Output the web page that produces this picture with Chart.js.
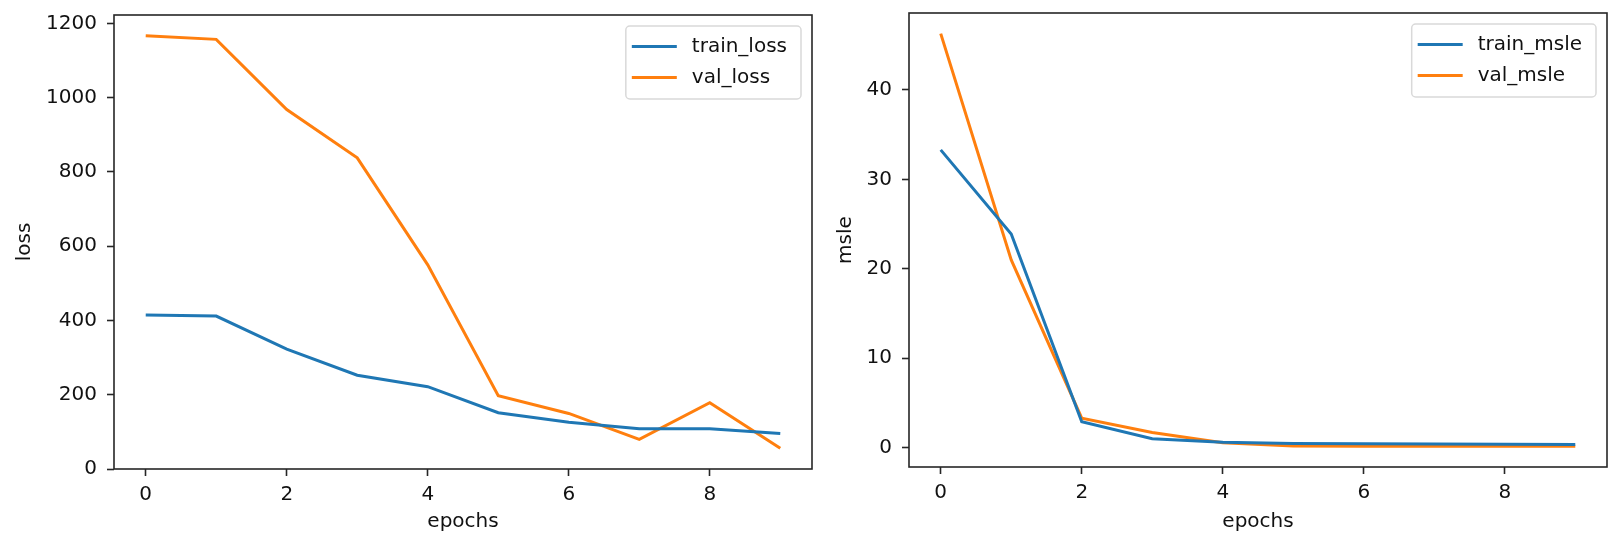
<!DOCTYPE html>
<html>
<head>
<meta charset="utf-8">
<title>loss / msle</title>
<script src="https://cdn.jsdelivr.net/npm/chart.js@4/dist/chart.umd.min.js"></script>
<style>
  html, body { margin: 0; padding: 0; background: #fff; }
  #wrap { position: relative; width: 1619px; height: 548px; overflow: hidden; }
  .panel { position: absolute; top: 0; height: 548px; }
  #left { left: 0; width: 830px; }
  #right { left: 830px; width: 789px; }
</style>
</head>
<body>
<div id="wrap">
  <div class="panel" id="left"><canvas id="lossChart"></canvas></div>
  <div class="panel" id="right"><canvas id="msleChart"></canvas></div>
</div>
<script>
const epochs = [0, 1, 2, 3, 4, 5, 6, 7, 8, 9]
const trainLoss = [415, 412, 323, 253, 222, 152, 126, 109, 109, 96]
const valLoss = [1167, 1157, 968, 838, 550, 198, 150, 80, 179, 56]
const trainMsle = [33.3, 23.9, 2.9, 1.0, 0.6, 0.48, 0.45, 0.42, 0.38, 0.35]
const valMsle = [46.3, 21.0, 3.3, 1.7, 0.55, 0.2, 0.17, 0.15, 0.15, 0.15]
const epochTicks = [0, 2, 4, 6, 8]
const lossTicks = [0, 200, 400, 600, 800, 1000, 1200]
const msleTicks = [0, 10, 20, 30, 40]

const BLUE = "#1f77b4"
const ORANGE = "#ff7f0e"
const INK = "#111"
const FONT = { family: "'DejaVu Sans', sans-serif", size: 20 }

Chart.defaults.font.family = FONT.family
Chart.defaults.font.size = FONT.size
Chart.defaults.color = INK

// matplotlib-like margins: 5% of the data range on each side
function padded(values) {
  const lo = Math.min(...values)
  const hi = Math.max(...values)
  const m = (hi - lo) * 0.05
  return { min: lo - m, max: hi + m }
}

function points(ys) {
  return epochs.map((x, i) => ({ x: x, y: ys[i] }))
}

// box around the plot + legend in the upper right corner
const frameAndLegend = {
  id: "frameAndLegend",
  afterDatasetsDraw(chart) {
    const ctx = chart.ctx
    const a = chart.chartArea
    ctx.save()
    ctx.strokeStyle = "#262626"
    ctx.lineWidth = 1.6
    ctx.strokeRect(a.left, a.top, a.right - a.left, a.bottom - a.top)

    ctx.font = "20px " + FONT.family
    const sets = chart.data.datasets
    const textW = Math.max(...sets.map((d) => ctx.measureText(d.label).width))
    const w = 6 + 45 + 15 + textW + 14
    const h = 73
    const x = a.right - 11 - w
    const y = a.top + 11

    ctx.beginPath()
    ctx.roundRect(x, y, w, h, 4)
    ctx.fillStyle = "rgba(255,255,255,0.8)"
    ctx.fill()
    ctx.strokeStyle = "#d9d9d9"
    ctx.lineWidth = 1.5
    ctx.stroke()

    sets.forEach((d, i) => {
      const cy = y + 20.5 + i * 31
      ctx.beginPath()
      ctx.strokeStyle = d.borderColor
      ctx.lineWidth = 3
      ctx.moveTo(x + 6, cy)
      ctx.lineTo(x + 51, cy)
      ctx.stroke()
      ctx.fillStyle = INK
      ctx.textBaseline = "middle"
      ctx.textAlign = "left"
      ctx.fillText(d.label, x + 66, cy)
    })
    ctx.restore()
  },
}

const tickMarks = {
  drawOnChartArea: false,
  drawTicks: true,
  tickLength: 7,
  tickWidth: 1.6,
  tickColor: "#262626",
}

function makeChart(id, cfg) {
  const xRange = padded(epochs)
  const yRange = padded(cfg.series[0].concat(cfg.series[1]))
  return new Chart(document.getElementById(id), {
    type: "line",
    data: {
      datasets: [
        {
          label: cfg.labels[0],
          data: points(cfg.series[0]),
          borderColor: BLUE,
          backgroundColor: BLUE,
          borderWidth: 3,
          pointRadius: 0,
          tension: 0,
        },
        {
          label: cfg.labels[1],
          data: points(cfg.series[1]),
          borderColor: ORANGE,
          backgroundColor: ORANGE,
          borderWidth: 3,
          pointRadius: 0,
          tension: 0,
        },
      ],
    },
    options: {
      responsive: true,
      maintainAspectRatio: false,
      animation: false,
      layout: { padding: cfg.padding },
      plugins: {
        legend: { display: false },
        tooltip: { enabled: false },
      },
      scales: {
        x: {
          type: "linear",
          min: xRange.min,
          max: xRange.max,
          afterBuildTicks: (axis) => {
            axis.ticks = epochTicks.map((v) => ({ value: v }))
          },
          afterFit: (axis) => {
            axis.height = cfg.xHeight
            axis.paddingLeft = 0
            axis.paddingRight = 0
          },
          grid: tickMarks,
          border: { display: false },
          ticks: { padding: 7, color: INK, font: FONT, maxRotation: 0, callback: (v) => String(v) },
          title: {
            display: true,
            text: "epochs",
            color: INK,
            font: FONT,
            padding: { top: 0, bottom: 14 },
          },
        },
        y: {
          type: "linear",
          min: yRange.min,
          max: yRange.max,
          afterBuildTicks: (axis) => {
            axis.ticks = cfg.yTicks.map((v) => ({ value: v }))
          },
          afterFit: (axis) => {
            axis.width = cfg.yWidth
            axis.paddingTop = 0
            axis.paddingBottom = 0
          },
          grid: tickMarks,
          border: { display: false },
          ticks: { padding: 10, color: INK, font: FONT, callback: (v) => String(v) },
          title: {
            display: true,
            text: cfg.yTitle,
            color: INK,
            font: FONT,
            padding: { top: cfg.yTitlePad, bottom: 0 },
          },
        },
      },
    },
    plugins: [frameAndLegend],
  })
}

document.addEventListener("DOMContentLoaded", () => {
  makeChart("lossChart", {
    series: [trainLoss, valLoss],
    labels: ["train_loss", "val_loss"],
    yTicks: lossTicks,
    yTitle: "loss",
    yTitlePad: 13,
    yWidth: 114,
    xHeight: 79,
    padding: { top: 15, right: 18, left: 0, bottom: 0 },
  })

  makeChart("msleChart", {
    series: [trainMsle, valMsle],
    labels: ["train_msle", "val_msle"],
    yTicks: msleTicks,
    yTitle: "msle",
    yTitlePad: 4,
    yWidth: 79,
    xHeight: 81,
    padding: { top: 13, right: 12, left: 0, bottom: 0 },
  })
})
</script>
</body>
</html>
